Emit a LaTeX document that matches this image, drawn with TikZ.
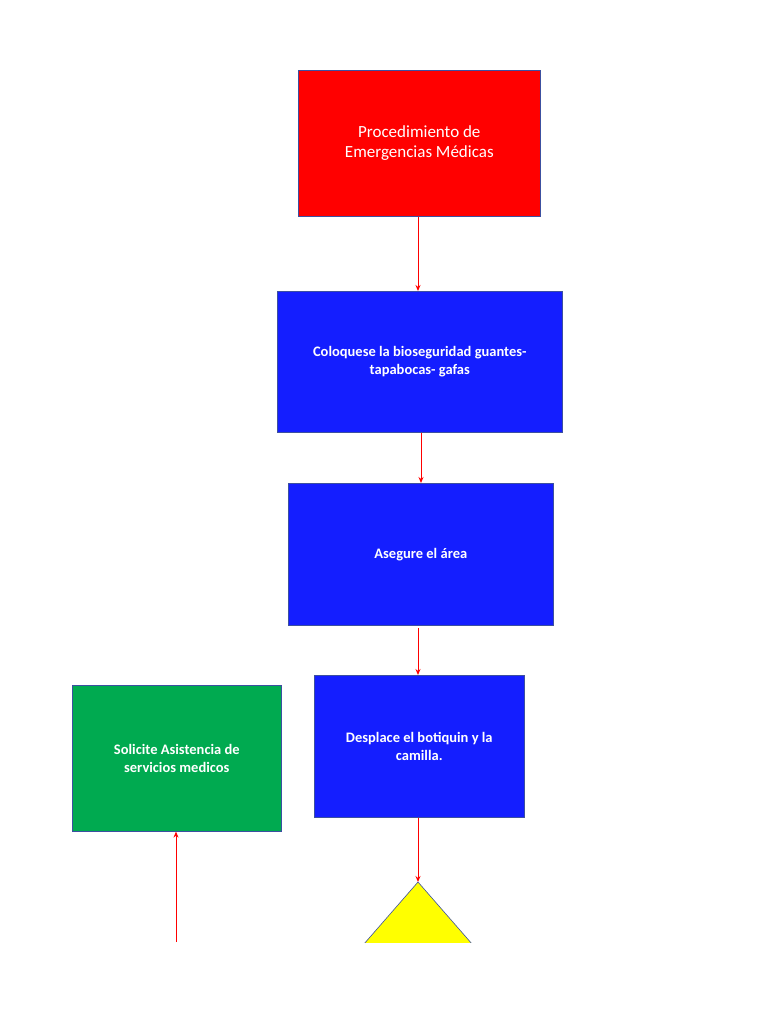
\documentclass[tikz,border=0pt]{standalone}
\usepackage{fontspec}
\setmainfont{Carlito}
\usetikzlibrary{arrows.meta}
\definecolor{rbox}{RGB}{255,0,0}
\definecolor{bbox}{RGB}{20,30,255}
\definecolor{gbox}{RGB}{0,170,80}
\definecolor{tri}{RGB}{255,255,0}
\definecolor{edge}{RGB}{60,80,160}
\tikzset{
  boxst/.style={draw=edge, line width=0.6pt, text=white, align=center, inner sep=0pt, anchor=north west},
  conn/.style={draw=red, line width=1pt, -{Stealth[length=6pt,width=5pt]}}
}
\begin{document}
\begin{tikzpicture}[x=1pt,y=-1pt]
\useasboundingbox (0,0) rectangle (768,1024);
\node[boxst, fill=rbox, minimum width=242pt, minimum height=146pt, font=\fontsize{17}{20}\selectfont] (r) at (298,70) {Procedimiento de\\Emergencias Médicas};
\node[boxst, fill=bbox, minimum width=285pt, minimum height=141pt, font=\bfseries\fontsize{14.5}{18}\selectfont] (b1) at (277,291) {Coloquese la bioseguridad guantes-\\tapabocas- gafas};
\node[boxst, fill=bbox, minimum width=265pt, minimum height=142pt, font=\bfseries\fontsize{14.5}{18}\selectfont] (b2) at (288,483) {Asegure el área};
\node[boxst, fill=bbox, minimum width=210pt, minimum height=142pt, font=\bfseries\fontsize{14.5}{18}\selectfont] (b3) at (314,675) {Desplace el botiquin y la\\camilla.};
\node[boxst, fill=gbox, minimum width=209pt, minimum height=146pt, font=\bfseries\fontsize{14.5}{18}\selectfont] (g) at (72,685) {Solicite Asistencia de\\servicios medicos};
\coordinate (apex) at (418,882);
\coordinate (gfree) at (176,942);
\begin{scope}
\clip (0,0) rectangle (768,942);
\fill[tri] (apex) -- (350,960) -- (486,960) -- cycle;
\draw[edge, line width=0.6pt] (350,960) -- (apex) -- (486,960);
\end{scope}
\draw[conn] (r.south -| 418,0) -- (b1.north -| 418,0);
\draw[conn] (b1.south -| 421,0) -- (b2.north -| 421,0);
\draw[conn] (418,628) -- (b3.north -| 418,0);
\draw[conn] (b3.south -| 418,0) -- (apex);
\draw[conn] (gfree) -- (g.south -| gfree);
\end{tikzpicture}
\end{document}
